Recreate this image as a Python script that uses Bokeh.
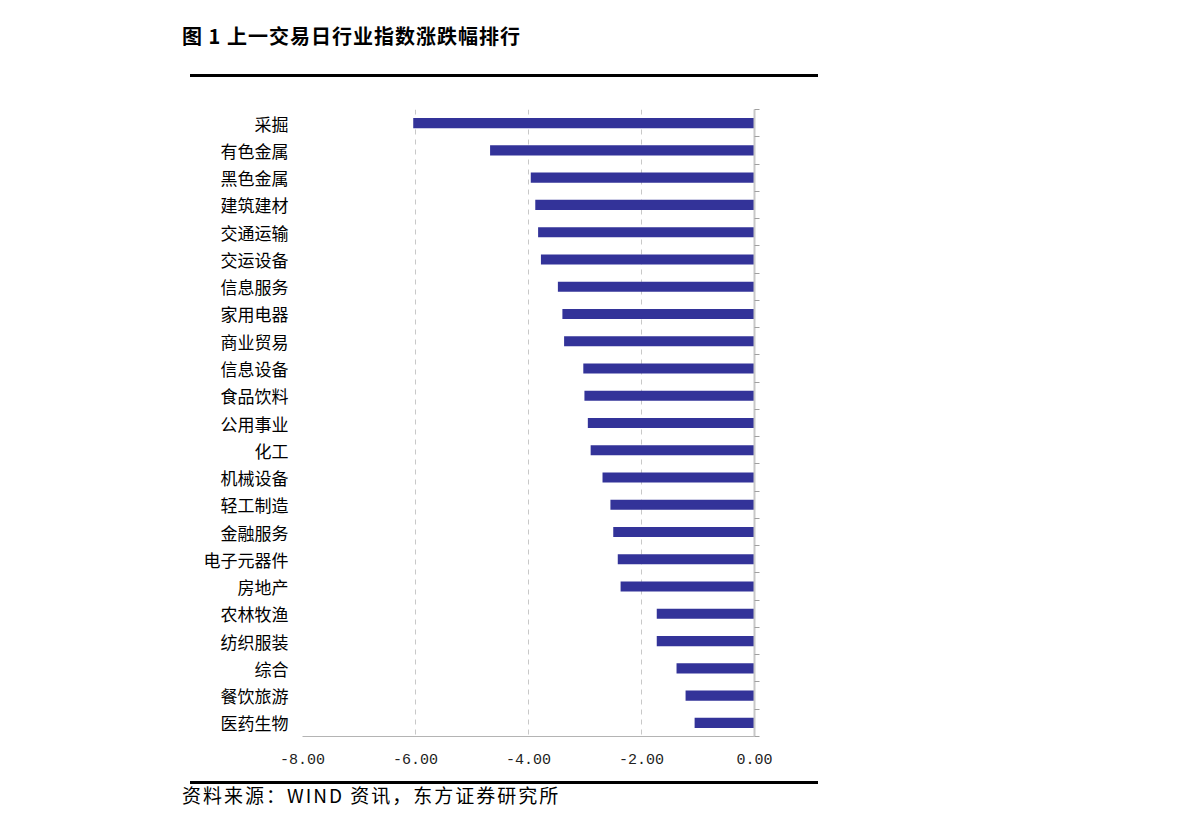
from bokeh.plotting import figure
from bokeh.layouts import column
from bokeh.models import Range1d, FixedTicker, LinearAxis, NumeralTickFormatter, Div
from bokeh.embed import file_html
from bokeh.resources import INLINE

# ---- data ----
categories = ["采掘", "有色金属", "黑色金属", "建筑建材", "交通运输", "交运设备",
              "信息服务", "家用电器", "商业贸易", "信息设备", "食品饮料", "公用事业",
              "化工", "机械设备", "轻工制造", "金融服务", "电子元器件", "房地产",
              "农林牧渔", "纺织服装", "综合", "餐饮旅游", "医药生物"]
values = [-6.04, -4.68, -3.96, -3.88, -3.83, -3.78,
          -3.48, -3.40, -3.37, -3.03, -3.01, -2.95,
          -2.90, -2.69, -2.55, -2.50, -2.42, -2.37,
          -1.73, -1.73, -1.38, -1.22, -1.06]
x_ticks = [-8, -6, -4, -2, 0]
title_text = "图 1 上一交易日行业指数涨跌幅排行"
source_text = "资料来源：WIND 资讯，东方证券研究所"

n = len(categories)
ypos = [i + 0.5 for i in range(n)]
CJK = "Noto Sans CJK SC"
W = 1191

# ---- header: title + rule ----
top_html = (
    '<div style="position:relative;width:1191px;height:80px;margin:0;padding:0;'
    'background:#ffffff;">'
    '<div style="position:absolute;left:182px;top:23px;white-space:pre;'
    "font-family:'Noto Sans CJK SC';font-size:20px;font-weight:bold;"
    'line-height:26px;letter-spacing:1px;color:#000;">' + title_text + '</div>'
    '<div style="position:absolute;left:190px;top:74px;width:628px;height:3px;'
    'background:#000;"></div></div>'
)
top = Div(text=top_html, width=W, height=80, margin=0)

# ---- main chart ----
p = figure(width=W, height=696, output_backend="svg", toolbar_location=None,
           x_range=Range1d(x_ticks[0], x_ticks[-1]),
           y_range=Range1d(n, 0),
           min_border_left=302, min_border_right=437,
           min_border_top=29, min_border_bottom=40,
           background_fill_color="white", border_fill_color="white")
p.outline_line_color = None

p.hbar(y=ypos, left=values, right=0, height=0.37,
       fill_color="#333399", line_color=None)

# left category labels
ya = p.yaxis[0]
ya.ticker = FixedTicker(ticks=ypos)
ya.major_label_overrides = {y: c for y, c in zip(ypos, categories)}
ya.axis_line_color = None
ya.major_tick_line_color = None
ya.major_tick_in = 0
ya.major_tick_out = 0
ya.minor_tick_line_color = None
ya.major_label_standoff = 14
ya.major_label_text_font = CJK
ya.major_label_text_font_size = "17px"
ya.major_label_text_color = "#000000"

# right axis at x = 0 with ticks at category boundaries (minor ticks, no labels)
ra = LinearAxis(ticker=FixedTicker(ticks=[], minor_ticks=list(range(n + 1))))
ra.minor_tick_in = 0
ra.minor_tick_out = 5
ra.minor_tick_line_color = "#a0a0a0"
ra.major_tick_line_color = None
ra.axis_line_color = "#c8c8c8"
ra.axis_line_width = 2
p.add_layout(ra, "right")

# bottom axis
xa = p.xaxis[0]
xa.ticker = FixedTicker(ticks=x_ticks)
xa.formatter = NumeralTickFormatter(format="0.00")
xa.major_tick_in = 0
xa.major_tick_out = 0
xa.minor_tick_line_color = None
xa.axis_line_color = "#b4b4b4"
xa.major_label_standoff = 17
xa.major_label_text_font = "Liberation Mono"
xa.major_label_text_font_size = "15px"
xa.major_label_text_color = "#222222"

p.xgrid.ticker = FixedTicker(ticks=x_ticks)
p.xgrid.grid_line_color = "#c8c8c8"
p.xgrid.grid_line_dash = "5 5"
p.ygrid.grid_line_color = None

# ---- footer: rule + source ----
bot_html = (
    '<div style="position:relative;width:1191px;height:55px;margin:0;padding:0;'
    'background:#ffffff;">'
    '<div style="position:absolute;left:190px;top:4.5px;width:628px;height:3px;'
    'background:#000;"></div>'
    '<div style="position:absolute;left:182px;top:7px;white-space:pre;'
    "font-family:'Noto Sans CJK SC';font-size:19px;line-height:24px;"
    'letter-spacing:2px;color:#000;">' + source_text + '</div></div>'
)
bot = Div(text=bot_html, width=W, height=55, margin=0)

layout = column(top, p, bot, spacing=0)
open("out.html", "w").write(file_html(layout, INLINE))
